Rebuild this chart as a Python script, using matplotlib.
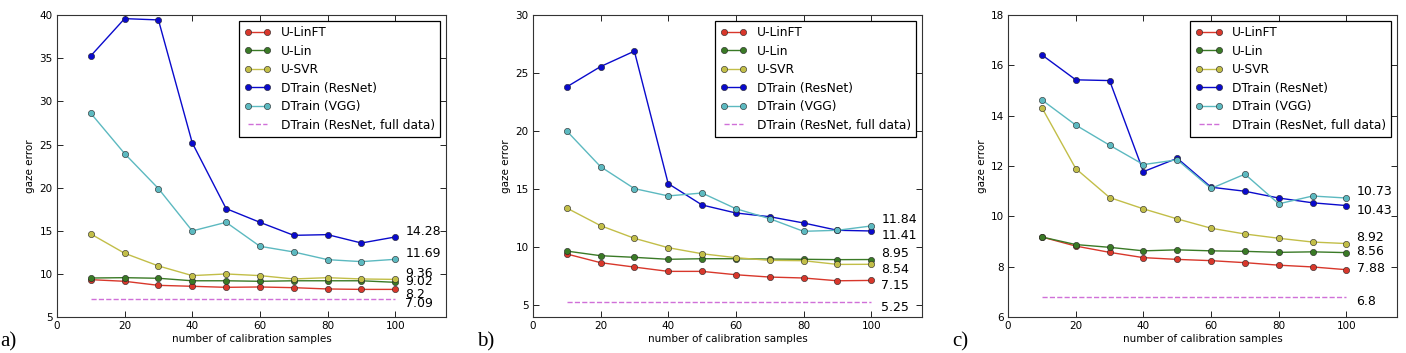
import numpy as np
import matplotlib
matplotlib.use('Agg')
import matplotlib.pyplot as plt

samples = [10, 20, 30, 40, 50, 60, 70, 80, 90, 100]

names = ['U-LinFT', 'U-Lin', 'U-SVR', 'DTrain (ResNet)', 'DTrain (VGG)',
         'DTrain (ResNet, full data)']

# panel a)
a_linft = [9.33, 9.14, 8.67, 8.56, 8.44, 8.48, 8.40, 8.25, 8.20, 8.20]
a_lin = [9.52, 9.56, 9.49, 9.20, 9.20, 9.14, 9.20, 9.20, 9.20, 9.02]
a_svr = [14.63, 12.39, 10.92, 9.80, 9.99, 9.80, 9.41, 9.56, 9.41, 9.36]
a_resnet = [35.28, 39.6, 39.45, 25.19, 17.57, 15.98, 14.47, 14.55, 13.58, 14.28]
a_vgg = [28.63, 23.95, 19.89, 14.98, 15.98, 13.2, 12.54, 11.65, 11.42, 11.69]
a_full = 7.09

# panel b)
b_linft = [9.43, 8.68, 8.30, 7.93, 7.93, 7.64, 7.44, 7.36, 7.12, 7.15]
b_lin = [9.68, 9.28, 9.14, 8.97, 9.02, 9.02, 8.99, 8.97, 8.94, 8.95]
b_svr = [13.39, 11.87, 10.78, 9.97, 9.45, 9.11, 8.88, 8.85, 8.53, 8.54]
b_resnet = [23.82, 25.57, 26.9, 15.49, 13.65, 12.96, 12.64, 12.1, 11.47, 11.41]
b_vgg = [20.03, 16.95, 15.06, 14.43, 14.68, 13.33, 12.47, 11.38, 11.47, 11.84]
b_full = 5.25

# panel c)
c_linft = [9.18, 8.82, 8.57, 8.36, 8.29, 8.24, 8.16, 8.06, 7.99, 7.88]
c_lin = [9.18, 8.88, 8.77, 8.63, 8.67, 8.63, 8.61, 8.57, 8.59, 8.56]
c_svr = [14.32, 11.9, 10.75, 10.3, 9.9, 9.53, 9.3, 9.13, 8.98, 8.92]
c_resnet = [16.42, 15.43, 15.4, 11.78, 12.31, 11.16, 11.0, 10.73, 10.54, 10.43]
c_vgg = [14.63, 13.63, 12.83, 12.06, 12.25, 11.11, 11.68, 10.5, 10.81, 10.73]
c_full = 6.8

# (tag, series, full-data value, ylim, y tick step, label nudges)
panels = [
    ('a)', [a_linft, a_lin, a_svr, a_resnet, a_vgg], a_full, (5, 40), 5,
     [-0.57, 0.04, 0.74, 0.62, 0.7, -0.47]),
    ('b)', [b_linft, b_lin, b_svr, b_resnet, b_vgg], b_full, (4, 30), 5,
     [-0.43, 0.53, -0.44, -0.43, 0.55, -0.39]),
    ('c)', [c_linft, c_lin, c_svr, c_resnet, c_vgg], c_full, (6, 18), 2,
     [0.03, 0.04, 0.25, -0.21, 0.24, -0.2]),
]

colors = ['#d8372b', '#3a7a26', '#c2be48', '#0a0acc', '#5cb9c0']
full_color = '#d070d8'

fig = plt.figure(figsize=(14.06, 3.53), dpi=100)
lefts = [0.0405, 0.379, 0.717]

for i, (tag, series, full, ylim, ystep, offs) in enumerate(panels):
    ax = fig.add_axes([lefts[i], 0.102, 0.2767, 0.855])
    for s, col, name in zip(series, colors, names):
        ax.plot(samples, s, '-o', color=col, mfc=col, mec='#222222', mew=0.4,
                ms=4.5, lw=1.0, label=name)
    ax.plot(samples, [full] * len(samples), '--', color=full_color, lw=1.0,
            label=names[5])
    # value labels at the right end
    finals = [s[-1] for s in series] + [full]
    for v, off in zip(finals, offs):
        ax.text(103, v + off, ('%.2f' % v).rstrip('0').rstrip('.'),
                fontsize=9, ha='left', va='center')
    ax.set_xlim(0, 115)
    ax.set_ylim(*ylim)
    ax.set_xticks([0, 20, 40, 60, 80, 100])
    ax.set_yticks(np.arange(ystep * np.ceil(ylim[0] / ystep), ylim[1] + 0.01, ystep))
    ax.tick_params(direction='in', top=True, right=True, labelsize=7.5, length=4,
                   width=0.6, pad=3)
    for sp in ax.spines.values():
        sp.set_linewidth(0.8)
        sp.set_color('#333333')
    ax.set_xlabel('number of calibration samples', fontsize=7.5, labelpad=2)
    ax.set_ylabel('gaze error', fontsize=7.5, labelpad=3)
    leg = ax.legend(loc='upper right', fontsize=8.8, numpoints=2, fancybox=False,
                    framealpha=1, edgecolor='black', handlelength=2.2,
                    labelspacing=0.45, borderaxespad=0.5, handletextpad=0.8)
    leg.get_frame().set_linewidth(0.9)
    fig.text(lefts[i] - 0.0405 + 0.0005, 0.005, tag, fontsize=15,
             family=['Liberation Serif', 'DejaVu Serif'], ha='left', va='bottom')

fig.savefig('out.png', dpi=100)
